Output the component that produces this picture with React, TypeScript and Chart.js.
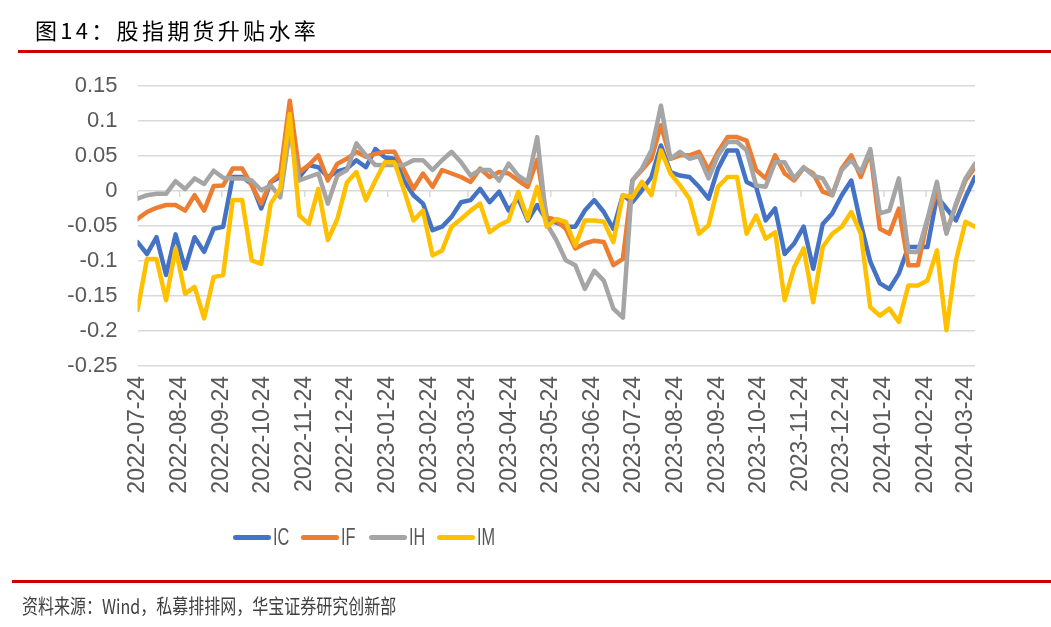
import React, { useEffect, useRef } from 'react';
import { Chart, registerables } from 'chart.js';

Chart.register(...registerables);

// weekly observations, first one on the start date
const startDate = '2022-07-24';
const tickLabels = [
  '2022-07-24', '2022-08-24', '2022-09-24', '2022-10-24', '2022-11-24', '2022-12-24',
  '2023-01-24', '2023-02-24', '2023-03-24', '2023-04-24', '2023-05-24', '2023-06-24',
  '2023-07-24', '2023-08-24', '2023-09-24', '2023-10-24', '2023-11-24', '2023-12-24',
  '2024-01-24', '2024-02-24', '2024-03-24',
];
const yTicks = [0.15, 0.1, 0.05, 0, -0.05, -0.1, -0.15, -0.2, -0.25];
const seriesNames = ['IC', 'IF', 'IH', 'IM'];
const seriesColors = ['#4472C4', '#ED7D31', '#A5A5A5', '#FFC000'];

const icValues = [
  -0.073, -0.09, -0.066, -0.12, -0.062, -0.111, -0.066, -0.087, -0.054, -0.051,
  0.02, 0.02, 0.01, -0.025, 0.013, 0.02, 0.105, 0.02, 0.037, 0.034,
  0.02, 0.028, 0.032, 0.044, 0.034, 0.06, 0.048, 0.046, 0.015, -0.006,
  -0.018, -0.056, -0.051, -0.037, -0.016, -0.013, 0.003, -0.016, -0.001, -0.028,
  -0.01, -0.042, -0.02, -0.042, -0.045, -0.051, -0.051, -0.028, -0.013, -0.03,
  -0.054, -0.006, -0.016, 0.001, 0.02, 0.065, 0.027, 0.022, 0.02, 0.006,
  -0.011, 0.032, 0.058, 0.058, 0.013, 0.006, -0.042, -0.025, -0.09, -0.075,
  -0.051, -0.111, -0.047, -0.032, -0.006, 0.015, -0.047, -0.101, -0.132, -0.14,
  -0.118, -0.08, -0.08, -0.08, -0.008, -0.025, -0.042, -0.009, 0.02,
];
const ifValues = [
  -0.04, -0.03, -0.024, -0.02, -0.02, -0.028, -0.006, -0.028, 0.007, 0.008,
  0.032, 0.032, 0.008, -0.018, 0.013, 0.025, 0.129, 0.027, 0.037, 0.051,
  0.015, 0.039, 0.046, 0.056, 0.049, 0.053, 0.056, 0.056, 0.03, 0.003,
  0.025, 0.006, 0.03, 0.025, 0.02, 0.013, 0.032, 0.02, 0.027, 0.025,
  0.015, 0.006, 0.045, -0.037, -0.042, -0.054, -0.082, -0.075, -0.071, -0.073,
  -0.106, -0.097, 0.015, 0.03, 0.046, 0.094, 0.046, 0.051, 0.051, 0.056,
  0.03, 0.056, 0.077, 0.077, 0.072, 0.03, 0.018, 0.051, 0.025, 0.015,
  0.033, 0.025, -0.001, -0.006, 0.032, 0.051, 0.02, 0.056, -0.054, -0.061,
  -0.025, -0.106, -0.106, -0.042, 0.001, -0.059, -0.02, 0.015, 0.034,
];
const ihValues = [
  -0.011, -0.006, -0.004, -0.004, 0.014, 0.003, 0.018, 0.01, 0.029, 0.019,
  0.018, 0.018, 0.015, 0.001, 0.008, -0.009, 0.085, 0.015, 0.02, 0.025,
  -0.018, 0.022, 0.03, 0.068, 0.051, 0.037, 0.037, 0.037, 0.037, 0.044,
  0.044, 0.03, 0.044, 0.056, 0.041, 0.022, 0.03, 0.03, 0.015, 0.039,
  0.022, 0.013, 0.077, -0.047, -0.07, -0.099, -0.106, -0.14, -0.114, -0.128,
  -0.168, -0.181, 0.015, 0.032, 0.058, 0.122, 0.046, 0.056, 0.046, 0.05,
  0.018, 0.051, 0.07, 0.07, 0.058, 0.008, 0.006, 0.041, 0.041, 0.018,
  0.034, 0.022, 0.018, -0.006, 0.03, 0.044, 0.027, 0.06, -0.032, -0.028,
  0.018, -0.087, -0.087, -0.04, 0.013, -0.061, -0.018, 0.018, 0.039,
];
const imValues = [
  -0.17, -0.097, -0.097, -0.156, -0.082, -0.147, -0.137, -0.182, -0.123, -0.12,
  -0.013, -0.013, -0.099, -0.104, -0.018, 0.003, 0.11, -0.035, -0.047, 0.003,
  -0.07, -0.04, 0.012, 0.027, -0.013, 0.015, 0.041, 0.041, 0.001, -0.042,
  -0.028, -0.092, -0.085, -0.051, -0.04, -0.028, -0.018, -0.059, -0.049, -0.042,
  -0.001, -0.04, 0.006, -0.051, -0.04, -0.044, -0.078, -0.042, -0.042, -0.044,
  -0.073, -0.006, -0.009, 0.013, -0.006, 0.058, 0.025, 0.008, -0.011, -0.061,
  -0.049, 0.006, 0.02, 0.02, -0.061, -0.035, -0.068, -0.059, -0.156, -0.109,
  -0.082, -0.159, -0.08, -0.061, -0.051, -0.03, -0.061, -0.166, -0.178, -0.168,
  -0.187, -0.135, -0.135, -0.128, -0.085, -0.199, -0.099, -0.044, -0.051,
];

const dayOf = (s: string) =>
  (Date.parse(s + 'T00:00:00Z') - Date.parse(startDate + 'T00:00:00Z')) / 86400000;

const FONT = '"Liberation Sans", Arial, sans-serif';
const CJK = '"Noto Sans CJK SC", "Liberation Sans", sans-serif';

// small tick marks hanging under the zero line (Excel style)
const zeroTicks = {
  id: 'zeroTicks',
  beforeDatasetsDraw(chart: any) {
    const { ctx, scales } = chart;
    const y0 = scales.y.getPixelForValue(0);
    ctx.save();
    ctx.strokeStyle = '#d9d9d9';
    ctx.lineWidth = 1.5;
    scales.x.ticks.forEach((t: any) => {
      const px = scales.x.getPixelForValue(t.value);
      ctx.beginPath();
      ctx.moveTo(px, y0);
      ctx.lineTo(px, y0 + 6);
      ctx.stroke();
    });
    ctx.restore();
  },
};

const App: React.FC = () => {
  const chartRef = useRef<HTMLCanvasElement | null>(null);

  useEffect(() => {
    if (!chartRef.current) return;
    const ctx = chartRef.current.getContext('2d');
    if (!ctx) return;

    const all = [icValues, ifValues, ihValues, imValues];
    const chart = new Chart(ctx, {
      type: 'line',
      data: {
        datasets: all.map((vals, k) => ({
          label: seriesNames[k],
          data: vals.map((v, i) => ({ x: i * 7, y: v })),
          borderColor: seriesColors[k],
          backgroundColor: seriesColors[k],
          borderWidth: 4.5,
          pointRadius: 0,
          tension: 0,
          borderJoinStyle: 'round' as const,
          borderCapStyle: 'round' as const,
          order: 3 - k, // later series on top, like the original
        })),
      },
      options: {
        responsive: false,
        animation: false,
        layout: { padding: { left: 0, right: 76, top: 86, bottom: 121 } },
        plugins: {
          legend: { display: false },
          tooltip: { enabled: false },
        },
        scales: {
          x: {
            type: 'linear',
            min: 0,
            max: 616,
            afterBuildTicks: (s: any) => {
              s.ticks = tickLabels.map((l) => ({ value: dayOf(l) }));
            },
            afterFit: (s: any) => {
              s.height = 140;
            },
            grid: { display: false, drawTicks: false },
            border: { display: false },
            ticks: {
              autoSkip: false,
              minRotation: 90,
              maxRotation: 90,
              padding: 10,
              color: '#595959',
              font: { size: 23, family: FONT },
              callback: (_v: any, i: number) => tickLabels[i],
            },
          },
          y: {
            min: -0.25,
            max: 0.15,
            afterBuildTicks: (s: any) => {
              s.ticks = yTicks.map((v) => ({ value: v }));
            },
            afterFit: (s: any) => {
              s.width = 137.5;
            },
            grid: { color: '#d9d9d9', lineWidth: 1.5, drawTicks: false },
            border: { display: false },
            ticks: {
              padding: 20,
              color: '#595959',
              font: { size: 22, family: FONT },
              callback: (v: any) => String(parseFloat(Number(v).toFixed(2))),
            },
          },
        },
      },
      plugins: [zeroTicks],
    });

    return () => {
      chart.destroy();
    };
  }, []);

  return (
    <div style={{ position: 'absolute', left: 0, top: 0, width: 1051, height: 627, background: '#fff', overflow: 'hidden' }}>
      <canvas ref={chartRef} width={1051} height={627} style={{ position: 'absolute', left: 0, top: 0, width: 1051, height: 627 }} />
      <div style={{ position: 'absolute', left: 35, top: 14, fontFamily: CJK, fontSize: 22, letterSpacing: 3.3, color: '#000', lineHeight: '30px', whiteSpace: 'nowrap' }}>
        图14：股指期货升贴水率
      </div>
      <div style={{ position: 'absolute', left: 18, right: 0, top: 50, height: 3, background: '#CC0000' }} />
      <div style={{ position: 'absolute', left: 233, top: 523, height: 28, display: 'flex', alignItems: 'center' }}>
        {seriesNames.map((n, k) => (
          <div key={n} style={{ display: 'flex', alignItems: 'center', width: 68 }}>
            <span style={{ display: 'inline-block', width: 38, height: 5, borderRadius: 3, background: seriesColors[k] }} />
            <span style={{ display: 'inline-block', marginLeft: 2, fontFamily: FONT, fontSize: 24, color: '#595959', transform: 'scaleX(0.68)', transformOrigin: 'left center', lineHeight: '28px' }}>
              {n}
            </span>
          </div>
        ))}
      </div>
      <div style={{ position: 'absolute', left: 12, right: 0, top: 580, height: 3, background: '#CC0000' }} />
      <div style={{ position: 'absolute', left: 22, top: 592, fontFamily: CJK, fontSize: 20, color: '#404040', transform: 'scaleX(0.8)', transformOrigin: 'left center', lineHeight: '28px', whiteSpace: 'nowrap' }}>
        资料来源：Wind，私募排排网，华宝证券研究创新部
      </div>
    </div>
  );
};

export default App;
